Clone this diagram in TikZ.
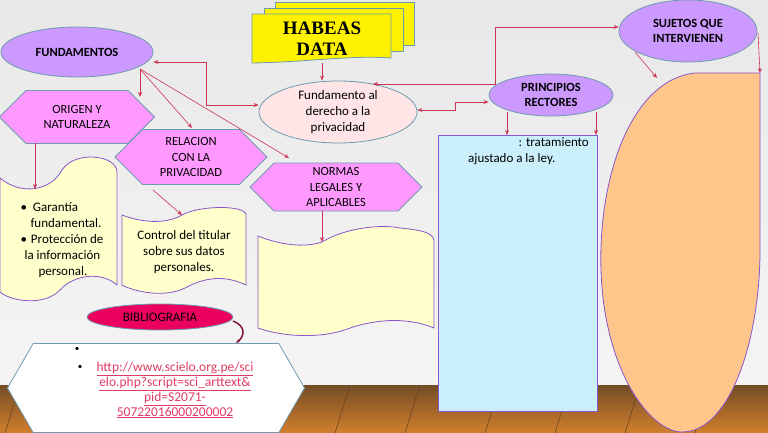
\documentclass[tikz,border=0pt]{standalone}
\usepackage{fontspec}
\setmainfont{Carlito}
\newfontfamily\hfont{Liberation Serif}
\usetikzlibrary{shapes.symbols,shapes.geometric,arrows.meta}
\definecolor{arr}{HTML}{CC3355}
\definecolor{viol}{HTML}{CC99FF}
\definecolor{mag}{HTML}{FF99FF}
\definecolor{edge}{HTML}{6E9BAF}
\definecolor{pur}{HTML}{8855CC}
\definecolor{cre}{HTML}{FFFFCC}
\tikzset{
 conn/.style={draw=arr,line width=0.6pt,-{Stealth[length=5pt,width=4pt]}},
 both/.style={conn,{Stealth[length=5pt,width=4pt]}-{Stealth[length=5pt,width=4pt]}},
 ell/.style={ellipse,draw=edge,line width=0.8pt,fill=viol,inner sep=0,align=center,font=\bfseries\fontsize{12.5}{15}\selectfont},
 hex/.style={signal,signal to=east and west,draw=edge,line width=0.8pt,fill=mag,inner sep=0,align=center,font=\fontsize{12.5}{15.5}\selectfont},
 doc/.style={draw=pur,line width=0.8pt,fill=cre},
 txt/.style={align=center,font=\fontsize{13}{16}\selectfont}
}
\begin{document}
\begin{tikzpicture}[x=1pt,y=-1pt]
\useasboundingbox (0,0) rectangle (768,433);
\shade[top color=gray!18,bottom color=gray!8] (0,0) rectangle (768,385);
\shade[top color=brown!60!black,bottom color=brown!70!orange] (0,385) rectangle (768,433);
\foreach \x in {20,75,140,210,280,350,420,500,570,640,710}{\draw[brown!50!black,line width=0.5pt] (\x,385) -- (\x-15,433);}
% HABEAS DATA
\foreach \dx/\dy in {23/-12,12/-6}{\draw[fill=yellow,draw=edge,line width=0.8pt] (252+\dx,14+\dy) rectangle (391+\dx,57+\dy);}
\draw[fill=yellow,draw=edge,line width=0.8pt] (252,14) -- (391,14) -- (391,58) .. controls (350,55) and (310,62) .. (252,63) -- cycle;
\node[font=\hfont\bfseries\fontsize{19}{21}\selectfont,align=center] (hab) at (322,39) {HABEAS\\DATA};
% ellipses
\node[ell,minimum width=152pt,minimum height=50pt] (fun) at (77,52) {FUNDAMENTOS};
\node[ell,fill=pink!40!white,font=\fontsize{13}{16}\selectfont,minimum width=158pt,minimum height=62pt] (fd) at (338,112) {Fundamento al\\derecho a la\\privacidad};
\node[ell,minimum width=124pt,minimum height=42pt] (pri) at (551,95) {PRINCIPIOS\\RECTORES};
\node[ell,minimum width=138pt,minimum height=62pt] (suj) at (688,31) {SUJETOS QUE\\INTERVIENEN};
% hexagons
\node[hex,minimum width=155pt,minimum height=53pt] (ori) at (77,117) {ORIGEN Y\\NATURALEZA};
\node[hex,minimum width=152pt,minimum height=55pt] (rel) at (191,157) {RELACION\\CON LA\\PRIVACIDAD};
\node[hex,minimum width=172pt,minimum height=48pt] (nor) at (336,187) {NORMAS\\LEGALES Y\\APLICABLES};
% cyan rect
\node[draw=pur,line width=0.8pt,fill=cyan!20,minimum width=159pt,minimum height=276pt,anchor=north west] (cy) at (438,135) {};
\node[txt,anchor=north east,inner sep=0] (cyt1) at (589,137) {: tratamiento};
\node[txt,anchor=north west,inner sep=0] (cyt2) at (468,153) {ajustado a la ley.};
% orange
\draw[draw=pur,line width=0.8pt,fill=orange!45] (760,73) -- (695,73) .. controls (630,80) and (598,180) .. (601,270) .. controls (604,370) and (650,432) .. (682,432) .. controls (730,432) and (760,340) .. (760,250) -- cycle;
\coordinate (ortl) at (657,78); \coordinate (ortr) at (760,73);
% docs
\draw[doc] (0,178) .. controls (20,195) and (50,192) .. (62,170) .. controls (75,150) and (117,155) .. (117,172) -- (117,285) .. controls (100,270) and (72,276) .. (60,290) .. controls (45,306) and (12,302) .. (0,292) -- cycle;
\node[txt,align=left] (d1) at (62,240) {\textbullet\hspace{6pt}Garantía\\\hspace{10pt}fundamental.\\\textbullet\hspace{4pt}Protección de\\\hspace{4pt}la información\\\hspace{18pt}personal.};
\coordinate (d1t) at (35,189);
\draw[doc] (122,215) .. controls (140,222) and (165,225) .. (182,215) .. controls (200,205) and (246,205) .. (246,215) -- (246,285) .. controls (225,275) and (205,277) .. (185,288) .. controls (165,298) and (135,292) .. (122,285) -- cycle;
\node[txt] (d2) at (184,252) {Control del titular\\sobre sus datos\\personales.};
\coordinate (d2t) at (182,215);
\draw[doc] (258,236) .. controls (280,245) and (305,248) .. (322,242) .. controls (345,228) and (380,224) .. (400,228) .. controls (420,230) and (432,232) .. (434,240) -- (434,328) .. controls (410,318) and (380,318) .. (350,328) .. controls (320,340) and (280,336) .. (258,328) -- cycle;
\coordinate (d3t) at (322,242);
% bibliography
\node[ellipse,draw=edge,line width=0.8pt,fill={rgb,255:red,235;green,0;blue,95},minimum width=146pt,minimum height=26pt,inner sep=0,font=\fontsize{13}{15}\selectfont] (bib) at (160,317) {BIBLIOGRAFIA};
\node[signal,signal to=east and west,signal pointer angle=120,draw=edge,line width=0.8pt,fill=white,minimum width=297pt,minimum height=89pt,inner sep=0] (url) at (156,388) {};
\node[align=center,font=\fontsize{13.5}{15}\selectfont,color={rgb,255:red,225;green,60;blue,100}] (urlt) at (175,390) {\underline{http://www.scielo.org.pe/sci}\\\underline{elo.php?script=sci\_arttext\&}\\\underline{pid=S2071-}\\\underline{50722016000200002}};
\node[font=\small] (b1) at (77,349) {\textbullet};
\node[font=\small] (b2) at (80,367) {\textbullet};
\coordinate (bc) at (233,321);
\coordinate (be) at (236,343);
\draw[draw={rgb,255:red,130;green,20;blue,50},line width=1.5pt,-{Stealth[length=4pt]}] (bc) .. controls (246,326) and (245,336) .. (be);
% connectors
\draw[conn] (hab.south |- 0,63) -- (fd.north -| 322,0);
\coordinate (f1) at (140,69);
\draw[both] (fun.east |- 150,62) -- (206,62) -- (206,105) -- (fd.west |- 260,105);
\draw[conn] (f1) -- (140,97);
\draw[conn] (f1) -- (192,128);
\draw[conn] (f1) -- (289,158);
\draw[conn] (35,143) -- (d1t);
\draw[conn] (153,190) -- (d2t);
\draw[conn] (nor.south -| 322,0) -- (d3t);
\draw[both] (373,84) -- (495,84) -- (495,27) -- (suj.west |- 0,27);
\draw[both] (fd.east |- 0,110) -- (455,110) -- (455,102) -- (pri.west |- 0,102);
\draw[conn] (507,112) -- (507,135);
\draw[conn] (596,112) -- (596,135);
\draw[conn] (635,52) -- (ortl);
\draw[conn] (758,33) -- (ortr);
\end{tikzpicture}
\end{document}
